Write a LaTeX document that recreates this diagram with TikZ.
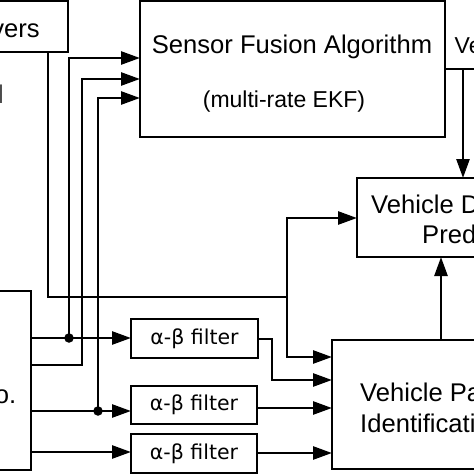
\documentclass[tikz,border=0pt]{standalone}
\usepackage{fontspec}
\setmainfont{Liberation Sans}
\newfontfamily\dv{DejaVu Sans}
\usetikzlibrary{arrows.meta}
\begin{document}
\begin{tikzpicture}[x=1pt,y=-1pt,
  blk/.style={draw=black, line width=2.8pt, rectangle, inner sep=0pt, outer sep=0pt},
  wire/.style={line width=2.6pt, black},
  arr/.style={wire, -{Triangle[length=19pt,width=13pt]}},
  lbl/.style={inner sep=0pt, font=\fontsize{25.6}{29}\selectfont},
  slbl/.style={inner sep=0pt, font=\fontsize{23}{27}\selectfont},
  flbl/.style={inner sep=0pt, font=\dv\fontsize{20.5}{24}\selectfont},
  jdot/.style={circle, fill=black, inner sep=0pt, minimum size=9.5pt}]
\useasboundingbox (0,0) rectangle (474,474);
\clip (0,0) rectangle (474,474);

% blocks
\node[blk, minimum width=168, minimum height=51] (recv) at (-16,26.5) {};
\node[blk, minimum width=305, minimum height=136] (sfa) at (292.5,69) {};
\node[blk, minimum width=203, minimum height=79] (vdp) at (458.5,217.5) {};
\node[blk, minimum width=228, minimum height=129] (vpi) at (446,404.5) {};
\node[blk, minimum width=131, minimum height=179] (left) at (-34.5,380.5) {};
\node[blk, minimum width=127, minimum height=39] (f1) at (194.5,338.5) {};
\node[blk, minimum width=126, minimum height=38] (f2) at (194,405) {};
\node[blk, minimum width=126, minimum height=39] (f3) at (194,453.5) {};

% labels
\node[lbl, anchor=base east] (trecv) at (40,37) {vers};
\node[lbl, anchor=base west, text=black!70] (tl) at (-2,103) {l};
\node[lbl, anchor=base east] (tleft) at (16.5,403) {o.};
\node[slbl, anchor=base west] (tve) at (454.5,53) {Ve};
\node[lbl, anchor=base] (tsfa) at (292,53) {Sensor Fusion Algorithm};
\node[slbl, anchor=base] (tekf) at (284,107) {(multi-rate EKF)};
\node[lbl, anchor=base west] (tvd1) at (371,213) {Vehicle D};
\node[lbl, anchor=base west] (tvd2) at (422,243) {Pred};
\node[lbl, anchor=base west] (tvp1) at (360,401) {Vehicle Pa};
\node[lbl, anchor=base west] (tvp2) at (360,432) {Identificati};
\node[flbl] (tf1) at (f1.center) {α-β filter};
\node[flbl] (tf2) at (f2.center) {α-β filter};
\node[flbl] (tf3) at (f3.center) {α-β filter};

% coordinates
\coordinate (x48) at (48,0);
\coordinate (j1) at (287,297);
\coordinate (c218) at (0,218);
\coordinate (c357) at (0,357);
\coordinate (c69) at (0,69);
\coordinate (xr) at (463,0);
\coordinate (eR) at (480,69);
\coordinate (x441) at (441,0);
\coordinate (c338) at (0,338);
\coordinate (c365) at (0,365);
\coordinate (c411) at (0,411);
\coordinate (c452) at (0,452);
\coordinate (c58) at (0,58);
\coordinate (c79) at (0,79);
\coordinate (c98) at (0,98);
\coordinate (x82) at (82,0);
\coordinate (c339) at (0,339);
\coordinate (c380) at (0,380);
\coordinate (c408) at (0,408);
\coordinate (c453) at (0,453);
\coordinate (x272) at (272,0);

\node[jdot] (d1) at (69,338) {};
\node[jdot] (d2) at (98,411) {};

% connectors
\draw[wire] (recv.south -| x48) |- (j1);
\draw[arr] (j1) |- (vdp.west |- c218);
\draw[arr] (j1) |- (vpi.west |- c357);
\draw[wire] (sfa.east |- c69) -- (eR);
\draw[arr] (xr |- c69) -- (vdp.north -| xr);
\draw[arr] (vpi.north -| x441) -- (vdp.south -| x441);

\draw[arr] (left.east |- c338) -- (f1.west |- c338);
\draw[arr] (d1.center) |- (sfa.west |- c58);
\draw[arr] (left.east |- c365) -| (x82 |- c79) -- (sfa.west |- c79);
\draw[arr] (left.east |- c411) -- (f2.west |- c411);
\draw[arr] (d2.center) |- (sfa.west |- c98);
\draw[arr] (left.east |- c452) -- (f3.west |- c452);

\draw[arr] (f1.east |- c339) -| (x272 |- c380) -- (vpi.west |- c380);
\draw[arr] (f2.east |- c408) -- (vpi.west |- c408);
\draw[arr] (f3.east |- c453) -- (vpi.west |- c453);
\end{tikzpicture}
\end{document}
